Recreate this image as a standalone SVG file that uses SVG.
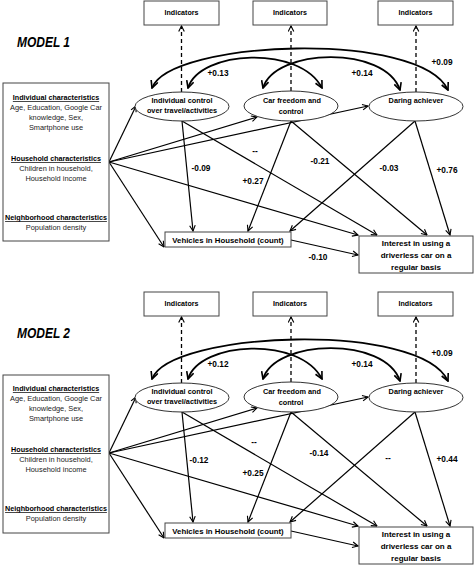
<svg xmlns="http://www.w3.org/2000/svg" width="474" height="567" viewBox="0 0 474 567">
<defs>
<marker id="ah" viewBox="0 0 10 10" refX="9" refY="5" markerWidth="7" markerHeight="7" markerUnits="userSpaceOnUse" orient="auto-start-reverse">
<path d="M1,1 L9,5 L1,9" fill="none" stroke="#000" stroke-width="1.6"/>
</marker>
<marker id="ahc" viewBox="0 0 10 10" refX="9" refY="5" markerWidth="9" markerHeight="9" markerUnits="userSpaceOnUse" orient="auto-start-reverse">
<path d="M1,1 L9,5 L1,9" fill="none" stroke="#000" stroke-width="1.8"/>
</marker>
<style>
.box{fill:#fff;stroke:#444;stroke-width:1}
.ell{fill:#fff;stroke:#333;stroke-width:1}
.ln{fill:none;stroke:#000;stroke-width:1.2;marker-end:url(#ah)}
.cov{fill:none;stroke:#000;stroke-width:1.8;marker-start:url(#ahc);marker-end:url(#ahc)}
.dash{fill:none;stroke:#000;stroke-width:1.3;stroke-dasharray:4,3;marker-end:url(#ah)}
text{font-family:"Liberation Sans",Arial,sans-serif;fill:#000;text-anchor:middle}
.b{font-weight:bold;font-size:7.3px}
.r{font-size:7.4px;fill:#222}
.u{font-weight:bold;font-size:7.2px;text-decoration:underline}
.ind{font-weight:bold;font-size:7.1px}
.veh{font-weight:bold;font-size:7.8px}
.int{font-weight:bold;font-size:8px}
.lab{font-weight:bold;font-size:8.3px}
.title{font-weight:bold;font-style:italic;font-size:14px;text-anchor:start}
</style>
</defs>
<rect width="474" height="567" fill="#fff"/>

<g id="model1">
<text class="title" x="17" y="47" textLength="53" lengthAdjust="spacingAndGlyphs">MODEL 1</text>
<g id="m1-connectors">
<path class="dash" d="M181.5,92 V26"/>
<path class="dash" d="M291,91 V26"/>
<path class="dash" d="M416,92 V26"/>
<path class="cov" d="M152,88 C170,40 420,30 448,90"/>
<path class="cov" d="M188,88 C200,50 300,45 322,88"/>
<path class="cov" d="M263,88 C275,48 385,45 400,90"/>
<path class="ln" d="M109,162 L136,106"/>
<path class="ln" d="M109,162 L257,117"/>
<path class="ln" d="M109,162 L368,106"/>
<path class="ln" d="M109,162 L358,235"/>
<path class="ln" d="M109,162 L164,247"/>
<path class="ln" d="M182,121 L193,231"/>
<path class="ln" d="M182,121 L377,235"/>
<path class="ln" d="M291,121 L248,231"/>
<path class="ln" d="M291,121 L427,235"/>
<path class="ln" d="M415,121 L290,231"/>
<path class="ln" d="M415,121 L450,235"/>
<path class="ln" d="M291,240 L358,255"/>
</g>
<g id="m1-labels">
<text class="lab" x="218" y="76">+0.13</text>
<text class="lab" x="362" y="76">+0.14</text>
<text class="lab" x="442" y="65">+0.09</text>
<text class="lab" x="201" y="171">-0.09</text>
<text class="lab" x="255" y="154">--</text>
<text class="lab" x="253" y="184">+0.27</text>
<text class="lab" x="320" y="164">-0.21</text>
<text class="lab" x="389" y="171">-0.03</text>
<text class="lab" x="447" y="173">+0.76</text>
<text class="lab" x="318" y="260">-0.10</text>
</g>
<g id="m1-ind1"><rect class="box" x="144" y="1" width="75" height="24"/><text class="ind" x="181.5" y="14.5">Indicators</text></g>
<g id="m1-ind2"><rect class="box" x="253" y="1" width="74" height="24"/><text class="ind" x="290" y="14.5">Indicators</text></g>
<g id="m1-ind3"><rect class="box" x="378" y="1" width="75" height="24"/><text class="ind" x="415.5" y="14.5">Indicators</text></g>
<g id="m1-ell1"><ellipse class="ell" cx="182" cy="106.5" rx="47" ry="14.5"/><text class="b" x="182" y="103">Individual control</text><text class="b" x="182" y="113">over travel/activities</text></g>
<g id="m1-ell2"><ellipse class="ell" cx="291" cy="106" rx="47" ry="15"/><text class="b" x="292" y="103">Car freedom and</text><text class="b" x="291" y="113.5">control</text></g>
<g id="m1-ell3"><ellipse class="ell" cx="416" cy="106.5" rx="47" ry="14.5"/><text class="b" x="416" y="103">Daring achiever</text></g>
<g id="m1-chars"><rect class="box" x="3" y="83" width="106" height="158"/>
<text class="u" x="56" y="100">Individual characteristics</text>
<text class="r" x="56" y="110">Age, Education, Google Car</text>
<text class="r" x="56" y="120">knowledge, Sex,</text>
<text class="r" x="56" y="130">Smartphone use</text>
<text class="u" x="56" y="161">Household characteristics</text>
<text class="r" x="56" y="171">Children in household,</text>
<text class="r" x="56" y="181">Household income</text>
<text class="u" x="56" y="220">Neighborhood characteristics</text>
<text class="r" x="56" y="230">Population density</text>
</g>
<g id="m1-veh"><rect class="box" x="165" y="232" width="126" height="15"/><text class="veh" x="228" y="242.5">Vehicles in Household (count)</text></g>
<g id="m1-int"><rect class="box" x="359" y="236" width="114" height="37"/><text class="int" x="416" y="246">Interest in using a</text><text class="int" x="416" y="258">driverless car on a</text><text class="int" x="416" y="270">regular basis</text></g>
</g>

<g id="model2" transform="translate(0,291)">
<text class="title" x="17" y="47" textLength="53" lengthAdjust="spacingAndGlyphs">MODEL 2</text>
<g id="m2-connectors">
<path class="dash" d="M181.5,92 V26"/>
<path class="dash" d="M291,91 V26"/>
<path class="dash" d="M416,92 V26"/>
<path class="cov" d="M152,88 C170,40 420,30 448,90"/>
<path class="cov" d="M188,88 C200,50 300,45 322,88"/>
<path class="cov" d="M263,88 C275,48 385,45 400,90"/>
<path class="ln" d="M109,162 L136,106"/>
<path class="ln" d="M109,162 L257,117"/>
<path class="ln" d="M109,162 L368,106"/>
<path class="ln" d="M109,162 L358,235"/>
<path class="ln" d="M109,162 L164,247"/>
<path class="ln" d="M182,121 L193,231"/>
<path class="ln" d="M182,121 L377,235"/>
<path class="ln" d="M291,121 L248,231"/>
<path class="ln" d="M291,121 L427,235"/>
<path class="ln" d="M415,121 L290,231"/>
<path class="ln" d="M415,121 L450,235"/>
<path class="ln" d="M291,240 L358,255"/>
</g>
<g id="m2-labels">
<text class="lab" x="218" y="76">+0.12</text>
<text class="lab" x="362" y="76">+0.14</text>
<text class="lab" x="442" y="65">+0.09</text>
<text class="lab" x="199" y="172">-0.12</text>
<text class="lab" x="254" y="154">--</text>
<text class="lab" x="253" y="185">+0.25</text>
<text class="lab" x="319" y="165">-0.14</text>
<text class="lab" x="388" y="170">--</text>
<text class="lab" x="447" y="171">+0.44</text>
</g>
<g id="m2-ind1"><rect class="box" x="144" y="1" width="75" height="24"/><text class="ind" x="181.5" y="14.5">Indicators</text></g>
<g id="m2-ind2"><rect class="box" x="253" y="1" width="74" height="24"/><text class="ind" x="290" y="14.5">Indicators</text></g>
<g id="m2-ind3"><rect class="box" x="378" y="1" width="75" height="24"/><text class="ind" x="415.5" y="14.5">Indicators</text></g>
<g id="m2-ell1"><ellipse class="ell" cx="182" cy="106.5" rx="47" ry="14.5"/><text class="b" x="182" y="103">Individual control</text><text class="b" x="182" y="113">over travel/activities</text></g>
<g id="m2-ell2"><ellipse class="ell" cx="291" cy="106" rx="47" ry="15"/><text class="b" x="292" y="103">Car freedom and</text><text class="b" x="291" y="113.5">control</text></g>
<g id="m2-ell3"><ellipse class="ell" cx="416" cy="106.5" rx="47" ry="14.5"/><text class="b" x="416" y="103">Daring achiever</text></g>
<g id="m2-chars"><rect class="box" x="3" y="84" width="106" height="158"/>
<text class="u" x="56" y="100">Individual characteristics</text>
<text class="r" x="56" y="110">Age, Education, Google Car</text>
<text class="r" x="56" y="120">knowledge, Sex,</text>
<text class="r" x="56" y="130">Smartphone use</text>
<text class="u" x="56" y="161">Household characteristics</text>
<text class="r" x="56" y="171">Children in household,</text>
<text class="r" x="56" y="181">Household income</text>
<text class="u" x="56" y="220">Neighborhood characteristics</text>
<text class="r" x="56" y="230">Population density</text>
</g>
<g id="m2-veh"><rect class="box" x="165" y="232" width="126" height="15"/><text class="veh" x="228" y="242.5">Vehicles in Household (count)</text></g>
<g id="m2-int"><rect class="box" x="359" y="236" width="114" height="37"/><text class="int" x="416" y="246">Interest in using a</text><text class="int" x="416" y="258">driverless car on a</text><text class="int" x="416" y="270">regular basis</text></g>
</g>
</svg>
